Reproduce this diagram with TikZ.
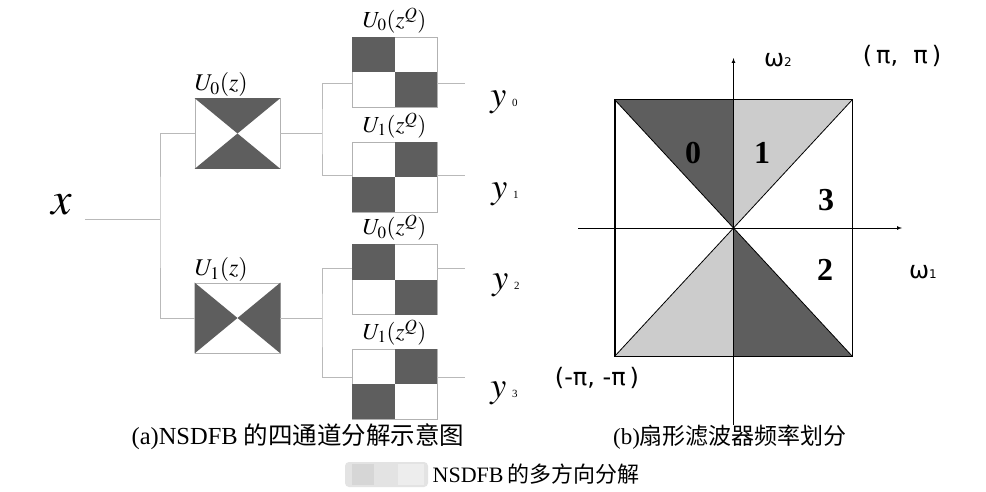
\documentclass[tikz,border=0pt]{standalone}
\usepackage{mathptmx}
\usepackage{fontspec}
\setmainfont{Liberation Serif}
\setsansfont{DejaVu Sans}
\newfontfamily\cjk{Noto Sans CJK SC}
\newcommand\setfs[1]{\fontsize{#1}{#1}\selectfont}
\tikzset{
  wire/.style={draw=gray!55, line width=0.7pt},
  fanbox/.style={draw=gray!60, line width=0.7pt, minimum width=85, minimum height=70, inner sep=0pt},
  dark/.style={fill=black!63},
  light/.style={fill=black!20},
  axis/.style={line width=0.7pt, -latex},
}
\begin{document}
\begin{tikzpicture}[x=1pt,y=-1pt]
\useasboundingbox[fill=white] (0,0) rectangle (986,491);
% (a) two-stage tree
\node (x) at (62,205) {\setfs{46}$x$};
\coordinate (xin) at (85,219);
\coordinate (s0) at (160,219);
\node[fanbox] (u0) at (237.5,133.5) {};
\node[fanbox] (u1) at (237.5,318) {};
\fill[dark] (u0.north west) -- (u0.north east) -- (u0.center) -- cycle;
\fill[dark] (u0.south west) -- (u0.south east) -- (u0.center) -- cycle;
\fill[dark] (u1.north west) -- (u1.south west) -- (u1.center) -- cycle;
\fill[dark] (u1.north east) -- (u1.south east) -- (u1.center) -- cycle;
\node[anchor=south west, inner xsep=0pt, inner ysep=1pt] (lu0) at (u0.north west) {\setfs{24}$U_0(z)$};
\node[anchor=south west, inner xsep=0pt, inner ysep=1pt] (lu1) at (u1.north west) {\setfs{24}$U_1(z)$};
\draw[wire] (xin) -- (s0);
\draw[wire] (u0.west) -| (s0) |- (u1.west);
% second stage
\node[fanbox] (q0) at (394.5,72) {};
\node[fanbox] (q1) at (394.5,177) {};
\node[fanbox] (q2) at (394.5,279.5) {};
\node[fanbox] (q3) at (394.5,384) {};
\fill[dark] (q0.north west) rectangle (q0.center);
\fill[dark] (q0.center) rectangle (q0.south east);
\fill[dark] (q1.north east) rectangle (q1.center);
\fill[dark] (q1.center) rectangle (q1.south west);
\fill[dark] (q2.north west) rectangle (q2.center);
\fill[dark] (q2.center) rectangle (q2.south east);
\fill[dark] (q3.north east) rectangle (q3.center);
\fill[dark] (q3.center) rectangle (q3.south west);
\node[above=0pt] (lq0) at (q0.north) {\setfs{23}$U_0(z^Q)$};
\node[above=0pt] (lq1) at (q1.north) {\setfs{23}$U_1(z^Q)$};
\node[above=0pt] (lq2) at (q2.north) {\setfs{23}$U_0(z^Q)$};
\node[above=0pt] (lq3) at (q3.north) {\setfs{23}$U_1(z^Q)$};
\coordinate (s1) at (322,133.5);
\coordinate (s2) at (322,318);
\coordinate (t0) at (352,83);
\coordinate (t1) at (352,175);
\coordinate (t2) at (352,268);
\coordinate (t3) at (352,377);
\draw[wire] (u0.east) -- (s1);
\draw[wire] (t0) -| (s1) |- (t1);
\draw[wire] (u1.east) -- (s2);
\draw[wire] (t2) -| (s2) |- (t3);
\coordinate (o0) at (465,83);
\coordinate (o1) at (465,175);
\coordinate (o2) at (465,268);
\coordinate (o3) at (465,377);
\draw[wire] (q0.east |- t0) -- (o0);
\draw[wire] (q1.east |- t1) -- (o1);
\draw[wire] (q2.east |- t2) -- (o2);
\draw[wire] (q3.east |- t3) -- (o3);
\node (y0) at (504,102) {\setfs{36}$y$\,\setfs{11}0};
\node (y1) at (505,194) {\setfs{36}$y$\,\setfs{11}1};
\node (y2) at (506,285) {\setfs{36}$y$\,\setfs{11}2};
\node (y3) at (504,393) {\setfs{36}$y$\,\setfs{11}3};
% (b) fan filter partition
\node[draw, line width=0.8pt, minimum width=237, minimum height=256, inner sep=0pt] (fan) at (733.5,228) {};
\coordinate (o) at (fan.center);
\fill[dark] (fan.north west) -- (fan.north) -- (o) -- cycle;
\fill[light] (fan.north) -- (fan.north east) -- (o) -- cycle;
\fill[light] (fan.south west) -- (fan.south) -- (o) -- cycle;
\fill[dark] (fan.south) -- (fan.south east) -- (o) -- cycle;
\draw[line width=0.8pt] (fan.north west) -- (fan.south east);
\draw[line width=0.8pt] (fan.north east) -- (fan.south west);
\draw[line width=0.8pt] (fan.north west) rectangle (fan.south east);
\coordinate (w1a) at (578,228);
\coordinate (w1b) at (902,228);
\coordinate (w2a) at (733.5,425);
\coordinate (w2b) at (733.5,58);
\draw[axis] (w1a) -- (w1b);
\draw[axis] (w2a) -- (w2b);
\node (r0) at (693,153) {\setfs{32}\textbf{0}};
\node (r1) at (762,153) {\setfs{32}\textbf{1}};
\node (r3) at (826,200) {\setfs{32}\textbf{3}};
\node (r2) at (825,270) {\setfs{32}\textbf{2}};
\node (w2) at (778,60) {\sffamily\setfs{24}ω\setfs{12}2};
\node (w1) at (923,272) {\sffamily\setfs{24}ω\setfs{12}1};
\node (pp) at (902,56) {\sffamily\setfs{24}(\,π,\ \ π\,)};
\node (mm) at (597,378) {\sffamily\setfs{24}(-π,\ -π\,)};
% captions
\node (capa) at (298,437) {\setfs{24.5}(a)NSDFB\ {\cjk 的四通道分解示意图}};
\node (capb) at (730,437) {\setfs{23}(b){\cjk 扇形滤波器频率划分}};
\fill[gray!22, rounded corners=4pt] (345,462) rectangle (428,487);
\fill[gray!32] (352,464) rectangle (374,485);
\fill[gray!14] (398,464) rectangle (424,485);
\node (cap) at (536,474) {\setfs{22}NSDFB\,{\cjk 的多方向分解}};
\end{tikzpicture}
\end{document}
